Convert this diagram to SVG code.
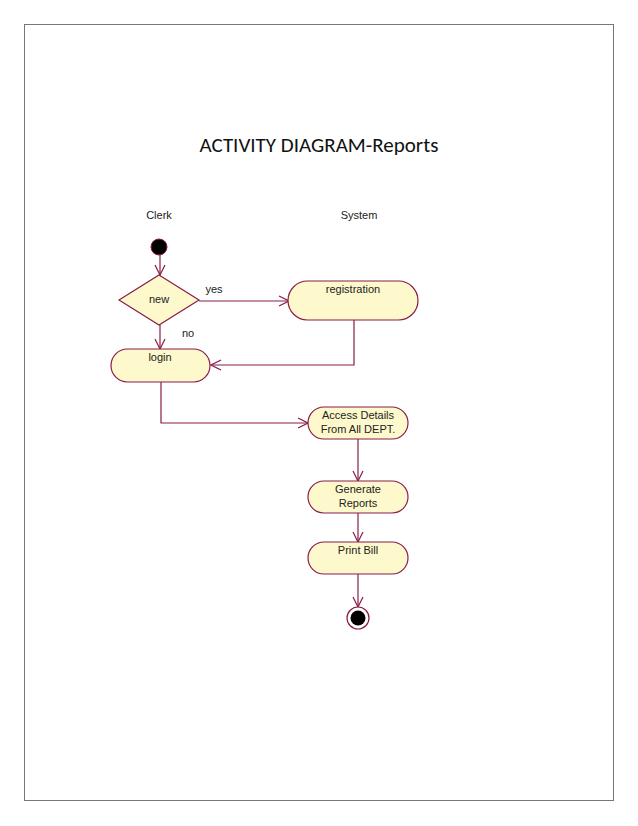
<svg xmlns="http://www.w3.org/2000/svg" width="638" height="826" viewBox="0 0 638 826">
<defs>
<style>
.node{fill:#fdf9cc;stroke:#8a1c4a;stroke-width:1.2}
.lbl{font-family:"Liberation Sans",Arial,sans-serif;font-size:11px;fill:#222;text-anchor:middle}
.edge{fill:none;stroke:#8a1c4a;stroke-width:1.2}
</style>
<marker id="arr" viewBox="0 0 12 12" refX="11" refY="6" markerWidth="12" markerHeight="12" markerUnits="userSpaceOnUse" orient="auto">
<path d="M1,1 L11,6 L1,11" fill="none" stroke="#8a1c4a" stroke-width="1.2"/>
</marker>
</defs>
<rect x="0" y="0" width="638" height="826" fill="#fff"/>
<rect x="24.5" y="24.5" width="589" height="776" fill="none" stroke="#777" stroke-width="1"/>
<text x="319" y="152" font-family="Carlito,Lato,'Open Sans',sans-serif" font-size="21" font-weight="400" fill="#111" text-anchor="middle">ACTIVITY DIAGRAM-Reports</text>
<text x="159" y="219" class="lbl">Clerk</text>
<text x="359" y="219" class="lbl">System</text>
<g id="edges">
<line class="edge" x1="160" y1="255" x2="160" y2="275" marker-end="url(#arr)"/>
<line class="edge" x1="199" y1="301" x2="289" y2="301" marker-end="url(#arr)"/>
<line class="edge" x1="160" y1="325" x2="160" y2="349" marker-end="url(#arr)"/>
<polyline class="edge" points="354,320 354,365 211,365" marker-end="url(#arr)"/>
<polyline class="edge" points="161,382 161,423 308,423" marker-end="url(#arr)"/>
<line class="edge" x1="358" y1="439" x2="358" y2="481" marker-end="url(#arr)"/>
<line class="edge" x1="358" y1="513" x2="358" y2="542" marker-end="url(#arr)"/>
<line class="edge" x1="358" y1="574" x2="358" y2="607" marker-end="url(#arr)"/>
<text x="214" y="293" class="lbl">yes</text>
<text x="188" y="337" class="lbl">no</text>
</g>
<g id="start"><circle cx="159" cy="247" r="8" fill="#000" stroke="#8a1c4a" stroke-width="1"/></g>
<g id="new">
<polygon class="node" points="159,275 199,300 159,325 119,300"/>
<text x="159" y="303" class="lbl">new</text>
</g>
<g id="registration">
<rect class="node" x="288" y="281" width="130" height="39" rx="19.5"/>
<text x="353" y="293" class="lbl">registration</text>
</g>
<g id="login">
<rect class="node" x="111" y="349" width="99" height="33" rx="16.5"/>
<text x="160" y="361" class="lbl">login</text>
</g>
<g id="access">
<rect class="node" x="308" y="407" width="100" height="32" rx="16"/>
<text x="358" y="419" class="lbl">Access Details</text>
<text x="358" y="433" class="lbl">From All DEPT.</text>
</g>
<g id="generate">
<rect class="node" x="308" y="481" width="100" height="32" rx="16"/>
<text x="358" y="493" class="lbl">Generate</text>
<text x="358" y="507" class="lbl">Reports</text>
</g>
<g id="print">
<rect class="node" x="308" y="542" width="100" height="32" rx="16"/>
<text x="358" y="554" class="lbl">Print Bill</text>
</g>
<g id="end">
<circle cx="358" cy="618" r="11" fill="#fff" stroke="#8a1c4a" stroke-width="1.2"/>
<circle cx="358" cy="618" r="7.5" fill="#000"/>
</g>
</svg>
